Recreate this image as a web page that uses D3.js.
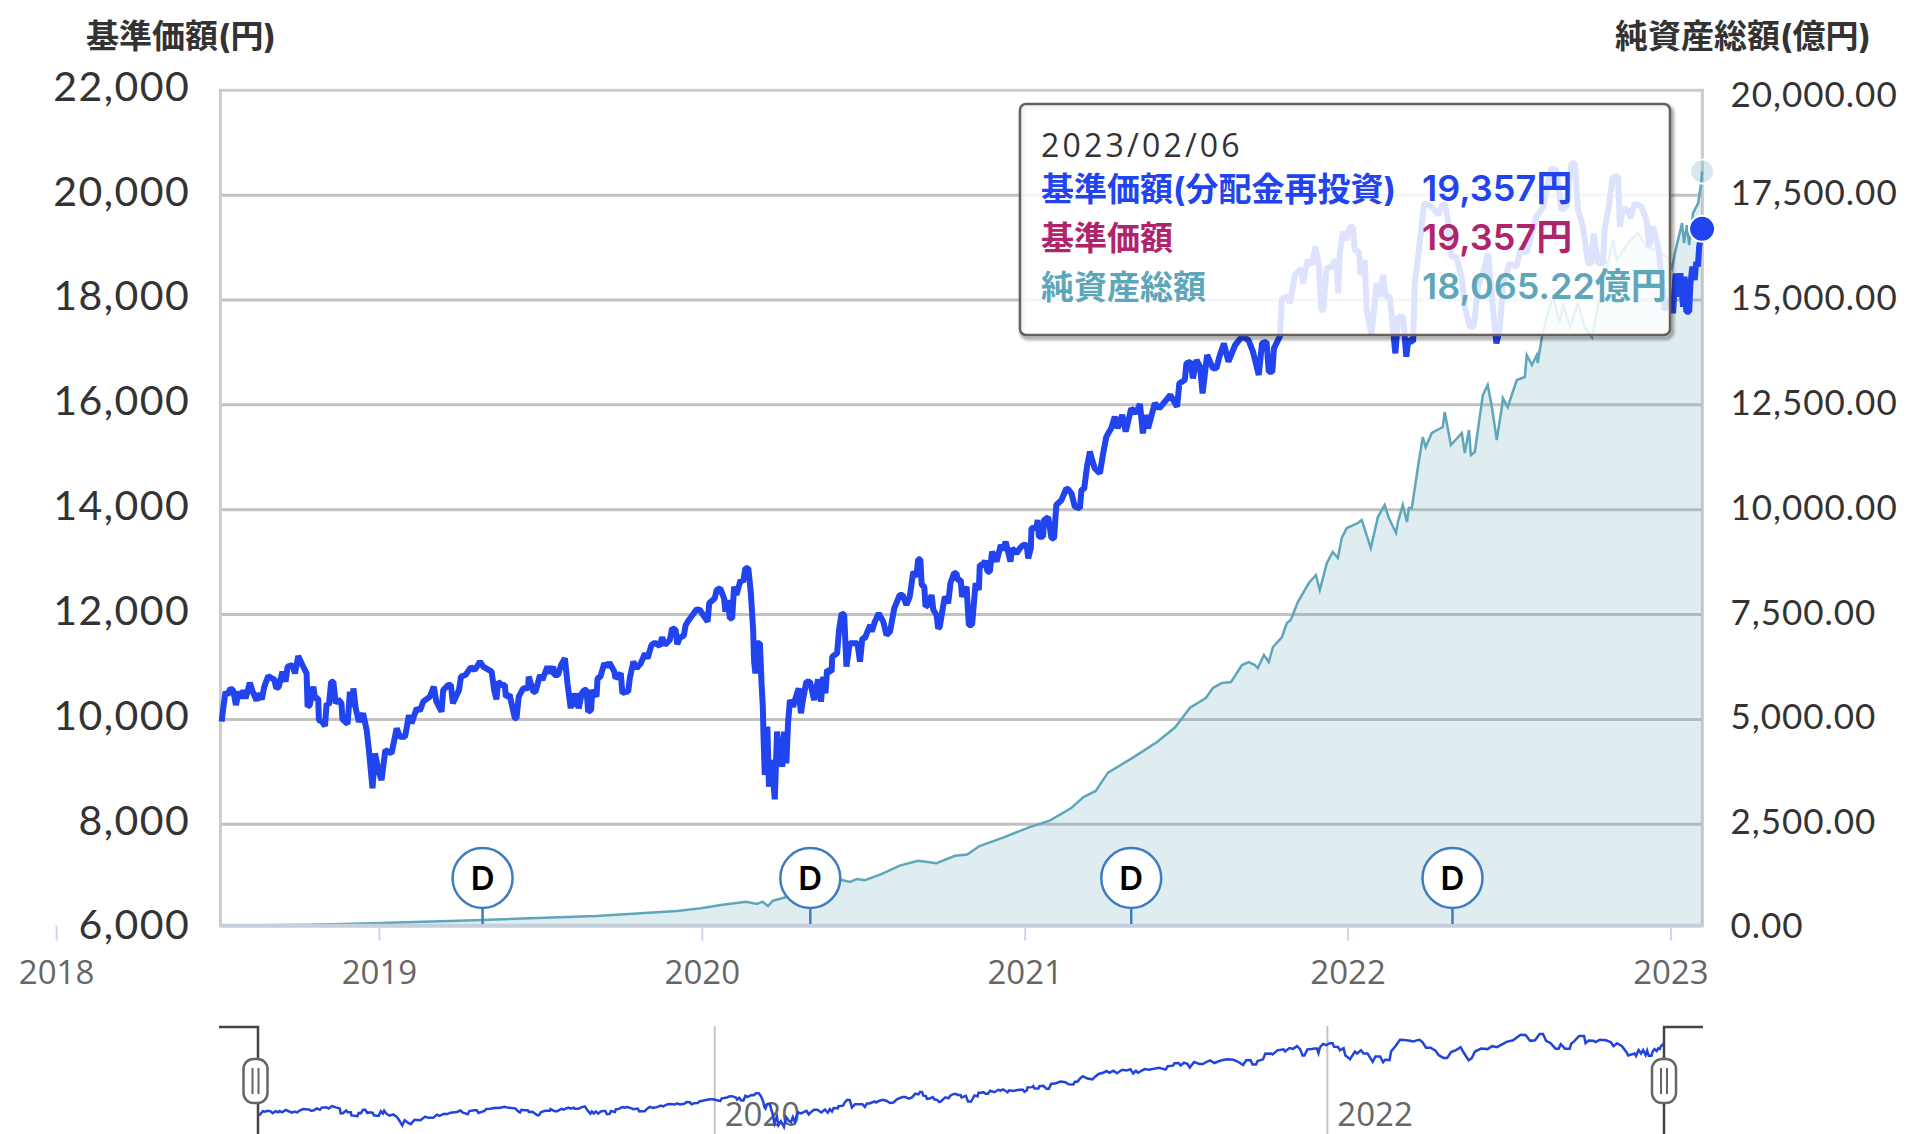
<!DOCTYPE html>
<html>
<head>
<meta charset="utf-8">
<script src="https://cdn.jsdelivr.net/npm/d3@7"></script>
<style>
  body { margin: 0; background: #fff; }
  svg { display: block; }
</style>
</head>
<body>
<div id="chart"></div>
<script>
// axis labels
var leftTicks = [6000, 8000, 10000, 12000, 14000, 16000, 18000, 20000, 22000];
var rightTicks = [0, 2500, 5000, 7500, 10000, 12500, 15000, 17500, 20000];
var yearTicks = [2018, 2019, 2020, 2021, 2022, 2023];
var navigatorYears = [2020, 2022];
var distributionYears = [2019.321, 2020.336, 2021.33, 2022.325];

// tooltip
var tooltipDate = "2023/02/06";
var tooltipNames = ["基準価額(分配金再投資)", "基準価額", "純資産総額"];
var tooltipValues = ["19,357円", "19,357円", "18,065.22億円"];
var lastNav = 19357;
var lastAssets = 18065.22;

// base price (year as a decimal)
var navYears = [
  2018.513, 2018.517, 2018.525, 2018.531, 2018.540, 2018.549, 2018.557, 2018.566, 2018.575, 2018.580,
  2018.587, 2018.592, 2018.600, 2018.609, 2018.621, 2018.628, 2018.637, 2018.645, 2018.657, 2018.668,
  2018.676, 2018.682, 2018.690, 2018.701, 2018.711, 2018.717, 2018.732, 2018.740, 2018.750, 2018.763,
  2018.776, 2018.779, 2018.786, 2018.797, 2018.802, 2018.812, 2018.814, 2018.824, 2018.833, 2018.838,
  2018.845, 2018.852, 2018.859, 2018.866, 2018.874, 2018.884, 2018.887, 2018.903, 2018.910, 2018.917,
  2018.921, 2018.928, 2018.938, 2018.951, 2018.962, 2018.969, 2018.980, 2018.988, 2018.998, 2019.008,
  2019.020, 2019.039, 2019.055, 2019.065, 2019.081, 2019.093, 2019.101, 2019.117, 2019.127, 2019.137,
  2019.158, 2019.170, 2019.178, 2019.194, 2019.199, 2019.215, 2019.223, 2019.229, 2019.248, 2019.254,
  2019.268, 2019.285, 2019.297, 2019.313, 2019.323, 2019.349, 2019.357, 2019.364, 2019.369, 2019.380,
  2019.390, 2019.393, 2019.405, 2019.421, 2019.426, 2019.433, 2019.447, 2019.462, 2019.464, 2019.478,
  2019.485, 2019.499, 2019.506, 2019.522, 2019.530, 2019.540, 2019.543, 2019.555, 2019.564, 2019.576,
  2019.584, 2019.594, 2019.599, 2019.605, 2019.612, 2019.619, 2019.628, 2019.636, 2019.643, 2019.648,
  2019.657, 2019.661, 2019.674, 2019.677, 2019.686, 2019.698, 2019.706, 2019.714, 2019.729, 2019.733,
  2019.749, 2019.754, 2019.764, 2019.772, 2019.777, 2019.788, 2019.798, 2019.811, 2019.824, 2019.832,
  2019.844, 2019.855, 2019.870, 2019.877, 2019.886, 2019.901, 2019.908, 2019.919, 2019.924, 2019.932,
  2019.944, 2019.950, 2019.960, 2019.984, 2019.994, 2020.018, 2020.023, 2020.040, 2020.046, 2020.057,
  2020.069, 2020.073, 2020.080, 2020.087, 2020.094, 2020.100, 2020.107, 2020.120, 2020.128, 2020.135,
  2020.144, 2020.152, 2020.159, 2020.162, 2020.166, 2020.171, 2020.180, 2020.185, 2020.189, 2020.191,
  2020.195, 2020.203, 2020.208, 2020.216, 2020.226, 2020.233, 2020.242, 2020.249, 2020.255, 2020.262,
  2020.267, 2020.273, 2020.283, 2020.290, 2020.300, 2020.307, 2020.314, 2020.324, 2020.335, 2020.348,
  2020.360, 2020.369, 2020.376, 2020.383, 2020.388, 2020.402, 2020.404, 2020.419, 2020.425, 2020.433,
  2020.441, 2020.448, 2020.458, 2020.472, 2020.474, 2020.482, 2020.490, 2020.497, 2020.505, 2020.513,
  2020.522, 2020.526, 2020.536, 2020.548, 2020.562, 2020.572, 2020.583, 2020.596, 2020.613, 2020.622,
  2020.634, 2020.644, 2020.655, 2020.665, 2020.670, 2020.677, 2020.681, 2020.689, 2020.693, 2020.701,
  2020.712, 2020.717, 2020.727, 2020.732, 2020.737, 2020.748, 2020.753, 2020.763, 2020.770, 2020.781,
  2020.789, 2020.792, 2020.802, 2020.806, 2020.820, 2020.827, 2020.837, 2020.848, 2020.858, 2020.861,
  2020.871, 2020.877, 2020.885, 2020.892, 2020.899, 2020.913, 2020.926, 2020.933, 2020.941, 2020.951,
  2020.956, 2020.961, 2020.975, 2020.985, 2020.995, 2021.006, 2021.011, 2021.019, 2021.021, 2021.037,
  2021.040, 2021.044, 2021.057, 2021.060, 2021.073, 2021.083, 2021.091, 2021.098, 2021.114, 2021.129,
  2021.135, 2021.145, 2021.155, 2021.171, 2021.176, 2021.184, 2021.193, 2021.202, 2021.209, 2021.217,
  2021.233, 2021.243, 2021.253, 2021.268, 2021.279, 2021.288, 2021.302, 2021.313, 2021.330, 2021.344,
  2021.357, 2021.366, 2021.375, 2021.382, 2021.403, 2021.417, 2021.451, 2021.472, 2021.479, 2021.496,
  2021.501, 2021.514, 2021.521, 2021.532, 2021.543, 2021.551, 2021.565, 2021.583, 2021.594, 2021.603,
  2021.617, 2021.631, 2021.652, 2021.673, 2021.693, 2021.707, 2021.725, 2021.735, 2021.749, 2021.756,
  2021.767, 2021.772, 2021.790, 2021.797, 2021.816, 2021.821, 2021.837, 2021.857, 2021.862, 2021.876,
  2021.888, 2021.901, 2021.911, 2021.919, 2021.925, 2021.935, 2021.952, 2021.957, 2021.966, 2021.971,
  2021.976, 2021.986, 2021.997, 2022.007, 2022.017, 2022.022, 2022.035, 2022.041, 2022.053, 2022.059,
  2022.074, 2022.090, 2022.097, 2022.110, 2022.118, 2022.131, 2022.141, 2022.148, 2022.157, 2022.172,
  2022.182, 2022.188, 2022.203, 2022.208, 2022.224, 2022.237, 2022.250, 2022.270, 2022.281, 2022.291,
  2022.301, 2022.311, 2022.322, 2022.337, 2022.353, 2022.363, 2022.379, 2022.391, 2022.404, 2022.420,
  2022.435, 2022.446, 2022.461, 2022.471, 2022.482, 2022.502, 2022.523, 2022.538, 2022.554, 2022.585,
  2022.606, 2022.631, 2022.647, 2022.662, 2022.678, 2022.693, 2022.704, 2022.714, 2022.729, 2022.745,
  2022.755, 2022.762, 2022.776, 2022.791, 2022.796, 2022.807, 2022.822, 2022.838, 2022.843, 2022.853,
  2022.869, 2022.876, 2022.889, 2022.910, 2022.926, 2022.934, 2022.946, 2022.962, 2022.977, 2022.982,
  2023.003, 2023.008, 2023.016, 2023.024, 2023.031, 2023.039, 2023.044, 2023.049, 2023.058, 2023.062,
  2023.068, 2023.075, 2023.080, 2023.085, 2023.089, 2023.098
];
var navValues = [
  9957, 10180, 10530, 10466, 10593, 10549, 10275, 10530, 10402, 10561,
  10402, 10510, 10701, 10530, 10358, 10498, 10383, 10625, 10828, 10784,
  10765, 10593, 10625, 10911, 10720, 11006, 11038, 10879, 11210, 11038,
  10879, 10243, 10275, 10625, 10402, 10402, 9989, 9957, 9875, 10307,
  10275, 10720, 10720, 10307, 10383, 10307, 10002, 9913, 10530, 10243,
  10593, 10212, 9957, 10116, 9798, 9417, 8686, 9353, 9035, 8845,
  9417, 9353, 9830, 9671, 9671, 10084, 9925, 10212, 10167, 10339,
  10434, 10625, 10339, 10148, 10561, 10657, 10657, 10307, 10561, 10816,
  10847, 10994, 10943, 11102, 11006, 10911, 10561, 10383, 10720, 10657,
  10657, 10434, 10466, 10021, 10021, 10434, 10593, 10593, 10816, 10530,
  10530, 10848, 10752, 11007, 10880, 11007, 10848, 10848, 11039, 11166,
  10689, 10212, 10498, 10244, 10498, 10212, 10498, 10562, 10562, 10148,
  10180, 10562, 10434, 10784, 10816, 11070, 11007, 11083, 10911, 10784,
  10880, 10498, 10530, 10530, 10784, 11102, 10975, 11070, 11261, 11166,
  11420, 11464, 11401, 11566, 11420, 11515, 11738, 11706, 11433, 11566,
  11592, 11801, 11897, 12100, 12088, 11865, 12215, 12310, 12469, 12501,
  12310, 12056, 12278, 11929, 11929, 12533, 12374, 12660, 12628, 12882,
  12882, 12405, 11706, 11102, 10880, 11452, 11452, 10689, 10244, 9703,
  8940, 9862, 8718, 9227, 8476, 9767, 9290, 9099, 9767, 9163,
  9926, 10371, 10244, 10403, 10594, 10117, 10403, 10721, 10721, 10371,
  10765, 10339, 10816, 10498, 10943, 10911, 11197, 11261, 11706, 12024,
  11992, 11007, 11452, 11452, 11452, 11452, 11102, 11547, 11547, 11675,
  11802, 11675, 11865, 12024, 11865, 11611, 11675, 12119, 12374, 12374,
  12183, 12342, 12819, 12724, 13054, 13054, 12565, 12533, 12151, 12183,
  12374, 12088, 11992, 11738, 11770, 12183, 12342, 12215, 12596, 12787,
  12787, 12660, 12660, 12342, 12533, 11802, 11802, 12596, 12469, 12946,
  12946, 13029, 12819, 12819, 13200, 13010, 13328, 13232, 13391, 13137,
  13010, 13264, 13169, 13264, 13328, 13328, 13073, 13264, 13645, 13677,
  13804, 13486, 13486, 13804, 13855, 13455, 13455, 14090, 14186, 14408,
  14389, 14313, 14059, 14027, 14389, 14389, 14822, 15108, 14949, 14790,
  14694, 15076, 15394, 15552, 15775, 15552, 15807, 15489, 15934, 15838,
  16016, 15457, 15807, 15552, 16029, 15934, 16188, 15965, 16410, 16474,
  16792, 16824, 16506, 16856, 16728, 16220, 16951, 16697, 16697, 16919,
  17173, 16824, 17142, 17301, 17237, 17015, 16569, 17173, 17205, 16633,
  16633, 17078, 17301, 18031, 18063, 17936, 18476, 18604, 18317, 18763,
  18667, 19017, 18635, 17809, 17809, 18604, 18635, 18731, 18731, 18127,
  18890, 19303, 19144, 19398, 19398, 18953, 18922, 18476, 18763, 17809,
  17332, 18317, 18063, 18476, 18063, 18063, 17427, 16982, 17682, 17682,
  16919, 17237, 17205, 18317, 19112, 19843, 19812, 19717, 19621, 19780,
  19844, 19526, 18826, 18826, 18445, 17873, 17491, 17491, 18254, 18509,
  18890, 18127, 17173, 17428, 18318, 18699, 18636, 19017, 18890, 19589,
  19780, 20511, 20480, 19717, 19780, 20607, 20607, 19717, 19399, 18699,
  18699, 19271, 18699, 18699, 19335, 19717, 20352, 20352, 19399, 19748,
  19717, 19558, 19844, 19780, 19526, 19017, 19399, 19017, 18191, 17809,
  18063, 17746, 18509, 18063, 18509, 17873, 18445, 17777, 17777, 18318,
  18636, 18381, 18731, 18636, 19017, lastNav
];

// net assets
var assetYears = [
  2018.513, 2018.788, 2018.981, 2019.321, 2019.672, 2019.811, 2019.923, 2019.997, 2020.059, 2020.137,
  2020.171, 2020.188, 2020.205, 2020.220, 2020.240, 2020.304, 2020.381, 2020.434, 2020.459, 2020.480,
  2020.505, 2020.556, 2020.613, 2020.670, 2020.727, 2020.784, 2020.822, 2020.860, 2020.935, 2021.011,
  2021.079, 2021.144, 2021.182, 2021.220, 2021.258, 2021.334, 2021.410, 2021.466, 2021.512,
  2021.561, 2021.583, 2021.611, 2021.639, 2021.673, 2021.694, 2021.713, 2021.722, 2021.741, 2021.756,
  2021.769, 2021.797, 2021.812, 2021.824, 2021.846, 2021.880, 2021.902, 2021.914, 2021.936, 2021.954,
  2021.970, 2021.982, 2021.998, 2022.032, 2022.044, 2022.072, 2022.094, 2022.115, 2022.128, 2022.150,
  2022.156, 2022.171, 2022.184, 2022.190, 2022.199, 2022.212, 2022.218, 2022.233, 2022.242, 2022.261,
  2022.295, 2022.301, 2022.320, 2022.354, 2022.363, 2022.376, 2022.382, 2022.394, 2022.419, 2022.434,
  2022.447, 2022.462, 2022.478, 2022.481, 2022.496, 2022.524, 2022.549, 2022.555, 2022.571, 2022.586,
  2022.589, 2022.602, 2022.617, 2022.636, 2022.658, 2022.667, 2022.689, 2022.713, 2022.735, 2022.757,
  2022.775, 2022.791, 2022.806, 2022.822, 2022.834, 2022.868, 2022.899, 2022.927, 2022.958, 2022.989,
  2023.005, 2023.014, 2023.036, 2023.042, 2023.051, 2023.058, 2023.070, 2023.086, 2023.095, 2023.098
];
var assetValues = [
  0, 25, 59, 140, 239, 305, 362, 428, 510, 592,
  535, 592, 486, 616, 658, 806, 1003, 1127, 1077, 1150,
  1120, 1271, 1481, 1602, 1542, 1723, 1753, 1965, 2176, 2418,
  2595, 2887, 3149, 3295, 3733, 4083, 4463, 4813, 5280,
  5511, 5749, 5869, 5893, 6298, 6369, 6298, 6226, 6536, 6369,
  6727, 6965, 7299, 7370, 7800, 8253, 8443, 8086, 8730, 8992,
  8849, 9326, 9564, 9683, 9755, 9087, 9826, 10112, 9802, 9445,
  9707, 10112, 9707, 10040, 10040, 10708, 11018, 11733, 11495, 11829,
  11972, 12330, 11543, 11829, 11352, 11901, 11304, 11376, 12735, 12973,
  12449, 11662, 12449, 12663, 12449, 13092, 13164, 13688, 13450, 13688,
  13497, 14117, 14594, 15071, 14451, 14928, 14355, 14928, 14355, 14117,
  14832, 15404, 15880, 16429, 15952, 16358, 16596, 16262, 16191, 16024,
  15762, 16119, 16834, 16358, 16787, 16310, 17073, 17312, 17789, lastAssets
];

var navData = d3.zip(navYears, navValues);
var assetData = d3.zip(assetYears, assetValues);

var blue = "#2244ee", crimson = "#b0246c", teal = "#5ea7ba";
var axisFont = "Lato, sans-serif";
var yearFont = "'Open Sans', sans-serif";
var cjkFont = "'Inter', 'Noto Sans CJK JP', sans-serif";

var svg = d3.select("#chart").append("svg")
    .attr("width", 1920)
    .attr("height", 1134);

var plot = { left: 220.4, right: 1702.4, top: 90.3, bottom: 925.7 };

var x = d3.scaleLinear()
    .domain([2018.509, 2023.099])
    .range([plot.left, plot.right]);

// the band under the first gridline is a little shorter in the source, hence 3 stops
var yNav = d3.scaleLinear()
    .domain([6000, 8000, 22000])
    .range([plot.bottom, 824.3, plot.top]);
var yAssets = d3.scaleLinear()
    .domain([0, 2500, 20000])
    .range([plot.bottom, 824.3, plot.top]);

// gridlines
svg.append("g").selectAll("line")
    .data(leftTicks.slice(1, -1))
    .enter().append("line")
    .attr("x1", plot.left).attr("x2", plot.right)
    .attr("y1", d => yNav(d)).attr("y2", d => yNav(d))
    .attr("stroke", "#c2c2c2")
    .attr("stroke-width", 3);

svg.append("rect")
    .attr("x", plot.left).attr("y", plot.top)
    .attr("width", plot.right - plot.left)
    .attr("height", plot.bottom - plot.top)
    .attr("fill", "none")
    .attr("stroke", "#cccccc")
    .attr("stroke-width", 3);

// left axis
var leftAxis = svg.append("g")
    .attr("transform", `translate(${plot.left},0)`)
    .call(d3.axisLeft(yNav).tickValues(leftTicks).tickFormat(d3.format(",")).tickSize(0).tickPadding(30));
leftAxis.select(".domain").remove();
leftAxis.selectAll("text")
    .attr("dy", d => d === 6000 ? "0.3em" : "0.24em")
    .style("font-family", axisFont)
    .style("font-size", "41px")
    .style("letter-spacing", "1.5px")
    .style("fill", "#333");

// right axis
var rightAxis = svg.append("g")
    .attr("transform", `translate(${plot.right},0)`)
    .call(d3.axisRight(yAssets).tickValues(rightTicks).tickFormat(d3.format(",.2f")).tickSize(0).tickPadding(28));
rightAxis.select(".domain").remove();
rightAxis.selectAll("text")
    .attr("dy", d => d === 20000 ? "0.45em" : d === 0 ? "0.33em" : "0.27em")
    .style("font-family", axisFont)
    .style("font-size", "35px")
    .style("letter-spacing", "1px")
    .style("fill", "#333");

// series
var assetArea = d3.area()
    .x(d => x(d[0]))
    .y0(plot.bottom)
    .y1(d => yAssets(d[1]));
var assetLine = d3.line()
    .x(d => x(d[0]))
    .y(d => yAssets(d[1]));
var navLine = d3.line()
    .x(d => x(d[0]))
    .y(d => yNav(d[1]));

svg.append("path")
    .datum(assetData)
    .attr("d", assetArea)
    .attr("fill", teal)
    .attr("fill-opacity", 0.2);
svg.append("path")
    .datum(assetData)
    .attr("d", assetLine)
    .attr("fill", "none")
    .attr("stroke", teal)
    .attr("stroke-width", 2.5);

// bottom axis, drawn after the area so its line sits on top
svg.append("line")
    .attr("x1", plot.left).attr("x2", plot.right)
    .attr("y1", plot.bottom).attr("y2", plot.bottom)
    .attr("stroke", "#c6d0dc")
    .attr("stroke-width", 4);
var bottomAxis = svg.append("g")
    .attr("transform", `translate(0,${plot.bottom})`)
    .call(d3.axisBottom(x).tickValues(yearTicks).tickFormat(d3.format("d")).tickSize(15).tickPadding(20));
bottomAxis.select(".domain").remove();
bottomAxis.selectAll("line").attr("stroke", "#ccd6eb").attr("stroke-width", 2);
bottomAxis.selectAll("text")
    .style("font-family", yearFont)
    .style("font-size", "33px")
    .style("fill", "#666");

svg.append("path")
    .datum(navData)
    .attr("d", navLine)
    .attr("fill", "none")
    .attr("stroke", blue)
    .attr("stroke-width", 6)
    .attr("stroke-linejoin", "bevel");

// distribution flags
var flags = svg.append("g").selectAll("g")
    .data(distributionYears)
    .enter().append("g")
    .attr("transform", d => `translate(${x(d)},878)`);
flags.append("line")
    .attr("y1", 30).attr("y2", 46)
    .attr("stroke", "#3f7cc0")
    .attr("stroke-width", 2.5);
flags.append("circle")
    .attr("r", 30)
    .attr("fill", "#fff")
    .attr("stroke", "#3f7cc0")
    .attr("stroke-width", 2.5);
flags.append("text")
    .attr("text-anchor", "middle")
    .attr("dy", "0.36em")
    .style("font-family", "Inter, sans-serif")
    .style("font-weight", 600)
    .style("font-size", "33px")
    .style("fill", "#000")
    .text("D");

// hover markers on the last point
svg.append("circle")
    .attr("cx", x(2023.098)).attr("cy", yAssets(lastAssets))
    .attr("r", 12)
    .attr("fill", teal)
    .attr("fill-opacity", 0.25)
    .attr("stroke", "#fff")
    .attr("stroke-width", 2);
svg.append("circle")
    .attr("cx", x(2023.098)).attr("cy", yNav(lastNav))
    .attr("r", 13)
    .attr("fill", blue)
    .attr("stroke", "#fff")
    .attr("stroke-width", 2);

// axis titles
svg.append("text")
    .attr("x", 86).attr("y", 48)
    .style("font-family", cjkFont).style("font-weight", 700)
    .style("font-size", "33px").style("fill", "#333")
    .text("基準価額(円)");
svg.append("text")
    .attr("x", 1871).attr("y", 48)
    .attr("text-anchor", "end")
    .style("font-family", cjkFont).style("font-weight", 700)
    .style("font-size", "33px").style("fill", "#333")
    .text("純資産総額(億円)");

// tooltip
var tip = svg.append("g").attr("transform", "translate(1020,104)");
var tipW = 650, tipH = 231;
[[9, 0.05], [6, 0.1], [3, 0.15]].forEach(function(s) {
  tip.append("rect")
      .attr("x", 2).attr("y", 3)
      .attr("width", tipW).attr("height", tipH)
      .attr("rx", 6)
      .attr("fill", "none")
      .attr("stroke", "#000")
      .attr("stroke-opacity", s[1])
      .attr("stroke-width", s[0]);
});
tip.append("rect")
    .attr("width", tipW).attr("height", tipH)
    .attr("rx", 6)
    .attr("fill", "#fff")
    .attr("fill-opacity", 0.85)
    .attr("stroke", "#6b6058")
    .attr("stroke-width", 2.5);
tip.append("text")
    .attr("x", 21).attr("y", 53)
    .style("font-family", yearFont)
    .style("font-size", "32px")
    .style("letter-spacing", "3.2px")
    .style("fill", "#333")
    .text(tooltipDate);

var tipColors = [blue, crimson, teal];
var tipRows = [97, 146, 195];
tooltipNames.forEach(function(name, i) {
  tip.append("text")
      .attr("x", 21).attr("y", tipRows[i])
      .style("font-family", cjkFont).style("font-weight", 700)
      .style("font-size", "33px")
      .style("fill", tipColors[i])
      .text(name);
  tip.append("text")
      .attr("x", 402).attr("y", tipRows[i])
      .style("font-family", cjkFont).style("font-weight", 600)
      .style("font-size", "36px")
      .style("fill", tipColors[i])
      .text(tooltipValues[i]);
});

// range selector strip
var xNav = d3.scaleLinear()
    .domain(x.domain())
    .range([258, 1664]);
var yMini = d3.scaleLinear()
    .domain([8476, 20607])
    .range([1127, 1034]);

svg.append("g").selectAll("line")
    .data(navigatorYears)
    .enter().append("line")
    .attr("x1", d => xNav(d)).attr("x2", d => xNav(d))
    .attr("y1", 1026).attr("y2", 1134)
    .attr("stroke", "#c4c4c4")
    .attr("stroke-width", 2);
svg.append("g").selectAll("text")
    .data(navigatorYears)
    .enter().append("text")
    .attr("x", d => xNav(d) + 10)
    .attr("y", 1126)
    .style("font-family", yearFont)
    .style("font-size", "33px")
    .style("fill", "#666")
    .text(d => d);

svg.append("path")
    .datum(navData)
    .attr("d", d3.line().x(d => xNav(d[0])).y(d => yMini(d[1])))
    .attr("fill", "none")
    .attr("stroke", "#2244dd")
    .attr("stroke-width", 2.5);

var outline = d3.line();
[[[219, 1027], [258, 1027], [258, 1134]], [[1703, 1027], [1664, 1027], [1664, 1134]]].forEach(function(p) {
  svg.append("path")
      .attr("d", outline(p))
      .attr("fill", "none")
      .attr("stroke", "#444")
      .attr("stroke-width", 2.5);
});

var handles = svg.append("g").selectAll("g")
    .data(x.domain())
    .enter().append("g")
    .attr("transform", (d, i) => `translate(${xNav(d) - (i === 0 ? 2.5 : 0)},1081)`);
handles.append("rect")
    .attr("x", -12).attr("y", -22)
    .attr("width", 24).attr("height", 44)
    .attr("rx", 10)
    .attr("fill", "#fff")
    .attr("stroke", "#666")
    .attr("stroke-width", 2.5);
handles.selectAll("line")
    .data([-3, 3])
    .enter().append("line")
    .attr("x1", d => d).attr("x2", d => d)
    .attr("y1", -13).attr("y2", 13)
    .attr("stroke", "#666")
    .attr("stroke-width", 2);
</script>
</body>
</html>
